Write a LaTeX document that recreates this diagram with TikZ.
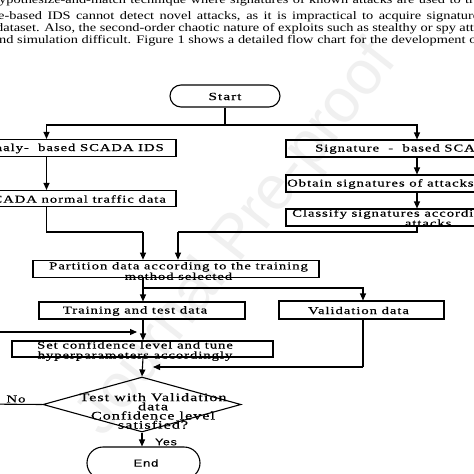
\documentclass[tikz,border=0pt]{standalone}
\usepackage{fontspec}
\setmainfont{Liberation Serif}
\newfontfamily\pfont[FakeStretch=1.25]{Liberation Serif}
\newfontfamily\dfont[FakeStretch=1.4,LetterSpace=9,FakeBold=0.6]{Liberation Serif}
\newfontfamily\sfont[FakeStretch=1.3,LetterSpace=8,FakeBold=0.5]{Liberation Sans}
\newfontfamily\wmfont{Liberation Sans}
\usetikzlibrary{arrows.meta,shapes.geometric,shapes.misc}
\begin{document}
\begin{tikzpicture}[x=1pt,y=-1pt,
  box/.style={draw,line width=1.1pt,rectangle,inner sep=0pt},
  term/.style={draw,line width=1.1pt,rounded rectangle,inner sep=0pt},
  dec/.style={draw,line width=1.1pt,diamond,inner sep=0pt},
  lbl/.style={font=\dfont\fontsize{10.5}{11}\selectfont,inner sep=0pt,align=center},
  slbl/.style={font=\sfont\fontsize{9.5}{11}\selectfont,inner sep=0pt},
  para/.style={font=\pfont\fontsize{11.5}{12}\selectfont,inner sep=0pt,anchor=base west},
  conn/.style={line width=1.1pt},
  arr/.style={conn,-{Triangle[length=7pt,width=6pt]}}]
\useasboundingbox (0,0) rectangle (474,474);
\clip (0,0) rectangle (474,474);
\fill[white] (0,0) rectangle (474,474);
% watermark
\node[font=\wmfont\fontsize{62}{62}\selectfont,text=black!6,rotate=52,inner sep=0pt] (wm) at (238,240) {Journal Pre-proof};
% paragraph
\node[para] (p1) at (-1,3.5) {\makebox[481pt][s]{ypothesize-and-match technique where signatures of known attacks are used to tra}};
\node[para] (p2) at (-2,19.5) {\makebox[481pt][s]{e-based IDS cannot detect novel attacks, as it is impractical to acquire signature}};
\node[para] (p3) at (-4,31.5) {\makebox[484pt][s]{dataset. Also, the second-order chaotic nature of exploits such as stealthy or spy atta}};
\node[para] (p4) at (-1,43) {\makebox[482pt][s]{nd simulation difficult. Figure 1 shows a detailed flow chart for the development of}};
% nodes
\node[term,minimum width=110pt,minimum height=22pt] (start) at (225,96) {};
\node[lbl,font=\dfont\fontsize{11}{11}\selectfont] (startT) at (225,96.5) {Start};
\node[box,minimum width=266pt,minimum height=17pt] (anom) at (43,148) {};
\node[lbl,anchor=east] (anomT) at (164,148.5) {Anomaly-\ \ based SCADA IDS};
\node[box,minimum width=266pt,minimum height=16pt] (norm) at (43,198.5) {};
\node[lbl,anchor=east] (normT) at (166,199) {SCADA normal traffic data};
\node[box,minimum width=274pt,minimum height=17pt] (sig) at (423,148.5) {};
\node[lbl,anchor=west] (sigT) at (315,149) {Signature\ \ -\ \ based SCADA IDS};
\node[box,minimum width=274pt,minimum height=17pt] (obt) at (423,183.5) {};
\node[lbl,anchor=west] (obtT) at (287,184) {Obtain signatures of attacks};
\node[box,minimum width=274pt,minimum height=17pt] (cls) at (423,217.5) {};
\node[lbl,anchor=west,font=\dfont\fontsize{10.5}{10}\selectfont] (clsT) at (292,218) {Classify signatures according to types of\\attacks};
\node[box,minimum width=286pt,minimum height=17.5pt] (part) at (176,269) {};
\node[lbl,font=\dfont\fontsize{10.5}{10.5}\selectfont] (partT) at (178.5,271) {Partition data according to the training\\method selected};
\node[box,minimum width=206pt,minimum height=17pt] (train) at (142,310.5) {};
\node[lbl] (trainT) at (135,311) {Training and test data};
\node[box,minimum width=165pt,minimum height=18pt] (val) at (361.5,310) {};
\node[lbl] (valT) at (358.5,310.5) {Validation data};
\node[box,minimum width=261pt,minimum height=16pt] (set) at (142.5,349) {};
\node[lbl,font=\dfont\fontsize{10.5}{10}\selectfont] (setT) at (135,351) {Set confidence level and tune\\hyperparameters accordingly};
\node[dec,minimum width=198pt,minimum height=55pt] (test) at (142,404.5) {};
\node[lbl,font=\dfont\fontsize{11.5}{8}\selectfont] (testT) at (153,411) {Test with Validation\\data\\Confidence level\\satisfied?};
\node[term,minimum width=113pt,minimum height=32pt] (end) at (143.5,463) {};
\node[slbl,font=\sfont\fontsize{10}{11}\selectfont] (endT) at (146,463) {End};
% coordinates
\coordinate (j0) at (225,125);
\coordinate (jL) at (46.5,125);
\coordinate (jR) at (417,125);
\coordinate (jN) at (46.5,232);
\coordinate (jC) at (143,232);
\coordinate (jS) at (417,232);
\coordinate (jS2) at (178,232);
\coordinate (jP) at (143,288);
\coordinate (jV) at (363,288);
\coordinate (jVb) at (363,367);
\coordinate (jVe) at (153,367);
\coordinate (jNo) at (-20,404);
\coordinate (jNo2) at (-20,332);
\coordinate (jNoE) at (137,332);
% connectors
\draw[conn] (start.south -| j0) -- (j0);
\draw[arr] (j0) -- (jL) -- (jL |- anom.north);
\draw[arr] (j0) -- (jR) -- (jR |- sig.north);
\draw[arr] (jL |- anom.south) -- (jL |- norm.north);
\draw[conn] (jL |- norm.south) -- (jN) -- (jC);
\draw[arr] (jC) -- (jC |- part.north);
\draw[arr] (jR |- sig.south) -- (jR |- obt.north);
\draw[arr] (jR |- obt.south) -- (jR |- cls.north);
\draw[conn] (jR |- cls.south) -- (jS) -- (jS2);
\draw[arr] (jS2) -- (jS2 |- part.north);
\draw[arr] (jP |- part.south) -- (jP |- train.north);
\draw[arr] (jP) -- (jV) -- (jV |- val.north);
\draw[arr] (jP |- train.south) -- (jP |- set.north);
\draw[conn] (jV |- val.south) -- (jVb);
\draw[arr] (jVb) -- (jVe);
\draw[arr] (jP |- set.south) -- (test.north);
\draw[conn] (test.west) -- (jNo) -- (jNo2);
\draw[arr] (jNo2) -- (jNoE);
\node[lbl] (noT) at (16,399) {No};
\draw[arr] (test.south) -- (test.south |- end.north);
\node[slbl] (yesT) at (166,442) {Yes};
\end{tikzpicture}
\end{document}
